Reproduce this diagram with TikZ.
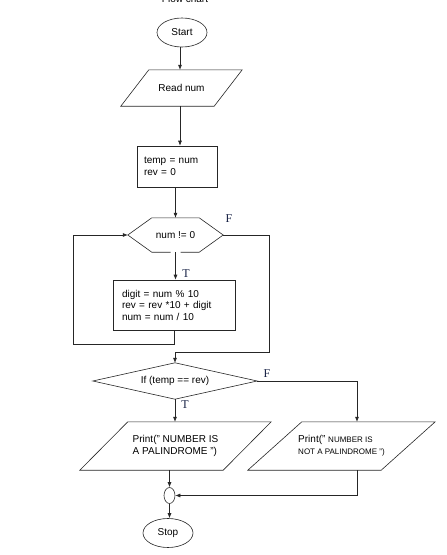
\documentclass[tikz,border=0pt]{standalone}
\usepackage{fontspec}
\setmainfont{Liberation Sans}
\newfontfamily\serifF{Liberation Serif}
\usetikzlibrary{shapes.geometric,arrows.meta}
\definecolor{lab}{RGB}{25,35,70}
\begin{document}
\begin{tikzpicture}[x=1pt,y=-1pt,
  every node/.style={font=\fontsize{10}{12}\selectfont, inner sep=0pt},
  ln/.style={line width=0.6pt, draw=black!85},
  arr/.style={ln, -{Latex[length=5pt,width=4pt]}},
  term/.style={ellipse, draw=black!85, line width=0.6pt},
  proc/.style={rectangle, draw=black!85, line width=0.6pt},
  ghost/.style={rectangle, draw=none},
  tf/.style={font=\serifF\fontsize{12}{12}\selectfont, text=lab}]
\useasboundingbox (0,0) rectangle (447,555);
% title (mostly cut off at the top)
\node[anchor=base] (title) at (185,2.5) {Flow chart};
% nodes
\node[term, minimum width=50pt, minimum height=29pt] (start) at (182,32.5) {Start};
\node[ghost, minimum width=121pt, minimum height=36pt] (rd) at (181.5,88) {Read num};
\draw[ln] (rd.south west) -- ([xshift=-28pt]rd.south east) -- (rd.north east) -- ([xshift=28pt]rd.north west) -- cycle;
\node[proc, minimum width=80pt, minimum height=41pt, text width=66pt, align=left, font=\fontsize{10}{11.5}\selectfont] (temp) at (177,166.5) {temp = num\\rev = 0};
\node[ghost, minimum width=95pt, minimum height=34pt] (hex) at (175.5,235) {num != 0};
\draw[ln] ([xshift=5pt]hex.south) -- ([xshift=-24pt]hex.south east) -- (hex.east) -- ([xshift=-24pt]hex.north east) -- ([xshift=24pt]hex.north west) -- (hex.west) -- ([xshift=24pt]hex.south west) -- ([xshift=-5pt]hex.south);
\node[proc, minimum width=122pt, minimum height=50pt, text width=104pt, align=left, font=\fontsize{10}{11.5}\selectfont] (loop) at (174,305) {digit = num \% 10\\rev = rev *10 + digit\\num = num / 10};
\node[ghost, minimum width=164pt, minimum height=36pt] (dia) at (175,381) {If (temp == rev)};
\draw[ln] (dia.west) -- (dia.north) -- (dia.east) -- (dia.south) -- cycle;
\node[ghost, minimum width=191pt, minimum height=48pt, align=left] (lp) at (175.5,446) {Print(" NUMBER IS\\A PALINDROME ")};
\draw[ln] (lp.south west) -- ([xshift=-48pt]lp.south east) -- (lp.north east) -- ([xshift=48pt]lp.north west) -- cycle;
\node[ghost, minimum width=187pt, minimum height=48pt, align=left] (rp) at (341.5,446) {Print(" {\fontsize{8}{12}\selectfont NUMBER IS}\\{\fontsize{8}{12}\selectfont NOT A PALINDROME ")}};
\draw[ln] (rp.south west) -- ([xshift=-54pt]rp.south east) -- (rp.north east) -- ([xshift=54pt]rp.north west) -- cycle;
\node[term, minimum width=11pt, minimum height=16pt] (conn) at (169.5,495.5) {};
\node[term, minimum width=50pt, minimum height=29pt] (stop) at (168,533) {Stop};
% labels
\node[tf] (t1) at (186,274) {T};
\node[tf] (f1) at (229,219) {F};
\node[tf] (f2) at (267,374) {F};
\node[tf] (t2) at (185,405) {T};
% helper coordinates
\coordinate (lb) at (73,344);
\coordinate (rb) at (269,352);
% connectors
\draw[arr] (start.south -| 180,0) -- (180,0 |- rd.north);
\draw[arr] (rd.south -| 180,0) -- (180,0 |- temp.north);
\draw[arr] (temp.south -| hex.north) -- (hex.north);
\draw[arr] (hex.south) -- (hex.south |- loop.north);
\draw[arr] (loop.south) |- (lb) |- (hex.west);
\draw[arr] (hex.east) -| (rb) -| (dia.north);
\draw[arr] (dia.south) -- (dia.south |- lp.north);
\draw[arr] (dia.east) -| ([xshift=15.5pt]rp.north);
\draw[arr] (conn.north |- lp.south) -- (conn.north);
\draw[arr] ([xshift=15.5pt]rp.south) |- (conn.east);
\draw[arr] (conn.south) -- (conn.south |- stop.north);
\end{tikzpicture}
\end{document}
